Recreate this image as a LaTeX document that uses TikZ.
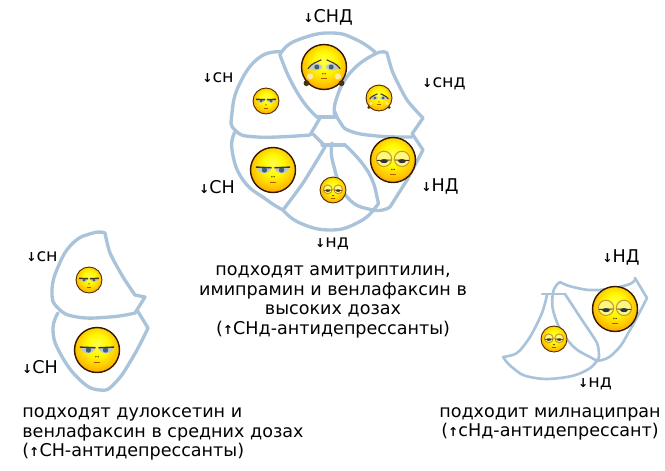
\documentclass[tikz,border=0pt]{standalone}
\usepackage{fontspec}
\setmainfont{DejaVu Sans}
\usetikzlibrary{positioning}

\definecolor{petalblue}{HTML}{A9C3DA}
\definecolor{lidbrown}{HTML}{4A3210}
\definecolor{rimgold}{HTML}{C9992A}
\definecolor{pupilblue}{HTML}{3F5F78}

\newcommand{\dnarrow}{{\fontsize{7}{7}\selectfont\bfseries ↓}}
\newcommand{\uparr}{{\fontsize{7}{7}\selectfont\bfseries ↑}}

\pgfdeclareradialshading{sunface}{\pgfpoint{0bp}{7bp}}{
    color(0bp)=(yellow!70!white);
    color(12bp)=(yellow!95!orange);
    color(23bp)=(yellow!55!orange);
    color(31bp)=(orange!85!yellow);
    color(50bp)=(orange!90!red)
}

\tikzset{
    sadeyes/.pic={
        \begin{scope}[x=1cm,y=1cm]
            \fill[lidbrown] (-.78,-.72) circle (.13) (.78,-.72) circle (.13);
            \fill[white,opacity=.6] (-.62,-.42) circle (.14) (.62,-.42) circle (.14);
            \foreach \s in {-1,1} {
                \fill[pupilblue!35!white,xscale=\s] (.38,.0) ellipse (.3 and .15);
                \fill[pupilblue,xscale=\s] (.32,.0) circle (.11);
                \draw[lidbrown,line width=.6pt,xscale=\s] (.72,-.08) .. controls (.55,.18) and (.3,.22) .. (.12,.32);
                \fill[lidbrown,xscale=\s] (.05,-.3) circle (.035);
            }
            \draw[orange!70!black,line width=.5pt] (-.13,-.52) -- (.13,-.52);
        \end{scope}
    },
    sterneyes/.pic={
        \begin{scope}[x=1cm,y=1cm]
            \foreach \s in {-1,1} {
                \fill[pupilblue!35!white,xscale=\s] (.08,.1) -- (.72,.1) arc (0:-180:.32 and .24) -- cycle;
                \fill[pupilblue,xscale=\s] (.38,.0) circle (.12);
                \draw[lidbrown,line width=.8pt,xscale=\s] (.06,.1) -- (.76,.13);
                \fill[lidbrown,xscale=\s] (.05,-.3) circle (.035);
            }
            \draw[orange!70!black,line width=.5pt] (-.13,-.55) -- (.13,-.55);
        \end{scope}
    },
    sleepyeyes/.pic={
        \begin{scope}[x=1cm,y=1cm]
            \foreach \s in {-1,1} {
                \fill[yellow!50!white,xscale=\s] (.4,.05) circle (.34);
                \draw[rimgold,line width=.6pt,xscale=\s] (.4,.05) circle (.34);
                \fill[pupilblue!60!black,xscale=\s] (.4,-.05) ellipse (.17 and .09);
                \draw[lidbrown,line width=.5pt,xscale=\s] (.08,.0) -- (.72,-.02);
                \fill[lidbrown,xscale=\s] (.05,-.42) circle (.035);
            }
            \draw[orange!70!black,line width=.5pt] (-.12,-.62) -- (.12,-.62);
        \end{scope}
    }
}

\begin{document}
\begin{tikzpicture}[
    x=0.02cm,
    y=-0.02cm,
    font=\fontsize{10}{11.2}\selectfont,
    petal/.style={
        draw=petalblue,
        line width=1.9pt,
        line join=round,
        line cap=round
    },
    thinpetal/.style={
        petal,
        line width=1.5pt
    },
    bigface/.style={
        circle,
        draw=black!80!orange,
        line width=.8pt,
        shading=sunface,
        minimum size=.9cm,
        inner sep=0pt
    },
    smallface/.style={
        circle,
        draw=black!70!orange,
        line width=.5pt,
        shading=sunface,
        minimum size=.52cm,
        inner sep=0pt
    },
    tag/.style={
        inner sep=0pt
    },
    caption/.style={
        align=center,
        inner sep=0pt
    }
]
\path[use as bounding box] (0,0) rectangle (665,470);

% main flower
\draw[petal] plot[smooth,tension=.8] coordinates {(317,117) (300,97) (283,63) (283,50) (303,38) (333,33) (357,40) (375,52)};
\draw[petal] (317,117) -- (335,117);
\draw[petal] plot[smooth,tension=.8] coordinates {(335,117) (336,100) (350,73) (375,54) (387,53)};
\draw[petal] plot[smooth,tension=.4] coordinates {(387,53) (393,73) (407,100) (423,118)};
\draw[petal] plot[smooth,tension=.8] coordinates {(335,112) (340,122) (350,131) (377,136) (412,137)};
\draw[petal] (423,118) -- (412,134);
\draw[petal] plot[smooth,tension=.8] coordinates {(282,52) (260,57) (240,83) (232,113) (235,130) (257,137) (310,135)};
\draw[petal] (310,135) -- (320,118);
\draw[petal] plot[smooth,tension=.8] coordinates {(235,132) (232,150) (243,180) (267,200) (283,210)};
\draw[petal] plot[smooth,tension=.4] coordinates {(283,210) (303,183) (325,147)};
\draw[petal] (313,134) -- (325,146);
\draw[petal] plot[smooth,tension=.8] coordinates {(283,210) (300,223) (330,230) (357,223) (375,208) (377,197) (367,170) (345,145)};
\draw[petal] (345,145) -- (322,145);
\draw[petal] plot[smooth,tension=.8] coordinates {(332,143) (333,163) (347,197) (373,210) (390,207)};
\draw[petal] (390,207) -- (407,180) -- (423,150) -- (413,135);

% left pair
\draw[petal] plot[smooth,tension=.8] coordinates {(105,233) (93,233) (73,243) (58,267) (52,292) (58,308) (77,317) (110,317) (135,313)};
\draw[petal] plot[smooth,tension=.4] coordinates {(105,233) (110,253) (123,277) (135,295)};
\draw[petal] (135,295) -- (145,297) -- (135,313);
\draw[petal] plot[smooth,tension=.8] coordinates {(58,313) (53,330) (60,353) (80,380) (100,390) (115,383) (133,357) (148,328)};
\draw[petal] (148,328) -- (137,310);

% right pair
\draw[thinpetal] plot[smooth,tension=.8] coordinates {(560,282) (553,293) (555,317) (570,343) (590,357) (602,360) (617,350) (630,330) (647,298)};
\draw[thinpetal] (647,298) -- (635,278);
\draw[thinpetal] plot[smooth,tension=.8] coordinates {(635,279) (627,285) (597,290) (573,287) (560,282)};
\draw[thinpetal] (542,294) -- (565,294);
\draw[thinpetal] plot[smooth,tension=.4] coordinates {(565,294) (580,317) (597,343) (599,357)};
\draw[thinpetal] plot[smooth,tension=.8] coordinates {(599,357) (587,370) (560,378) (530,377) (513,368) (503,357)};
\draw[thinpetal] plot[smooth,tension=.5] coordinates {(503,357) (517,353) (530,337) (542,313) (547,295)};

% faces
\node[bigface] (sndface) at (324,67) {};
\node[smallface] (sndlight) at (379,98) {};
\node[smallface] (snlight) at (266,101) {};
\node[bigface] (snface) at (273,170) {};
\node[bigface] (ndface) at (393,160) {};
\node[smallface] (ndlight) at (333,190) {};
\node[smallface] (leftlight) at (89,280) {};
\node[bigface] (leftface) at (97,350) {};
\node[bigface] (rightface) at (615,309) {};
\node[smallface] (rightlight) at (554,339) {};

\pic[scale=.45] at (sndface) {sadeyes};
\pic[scale=.26] at (sndlight) {sadeyes};
\pic[scale=.26] at (snlight) {sterneyes};
\pic[scale=.45] at (snface) {sterneyes};
\pic[scale=.45] at (ndface) {sleepyeyes};
\pic[scale=.26] at (ndlight) {sleepyeyes};
\pic[scale=.26] at (leftlight) {sterneyes};
\pic[scale=.45] at (leftface) {sterneyes};
\pic[scale=.45] at (rightface) {sleepyeyes};
\pic[scale=.26] at (rightlight) {sleepyeyes};

% labels
\node[tag] (sndtop) at (328,17) {\dnarrow СНД};
\node[tag] (sntag) at (218,78) {\dnarrow сн};
\node[tag] (sndtag) at (444,84) {\dnarrow снд};
\node[tag] (sntwo) at (217,187) {\dnarrow СН};
\node[tag] (ndtwo) at (440,186) {\dnarrow НД};
\node[tag] (ndtag) at (332,244) {\dnarrow нд};
\node[tag] (leftsn) at (42,257) {\dnarrow сн};
\node[tag] (leftsntwo) at (40,367) {\dnarrow СН};
\node[tag] (rightnd) at (621,257) {\dnarrow НД};
\node[tag] (rightndtwo) at (595,384) {\dnarrow нд};

\node[caption] (captionmain) at (333,302) {
    подходят амитриптилин,\\
    имипрамин и венлафаксин в\\
    высоких дозах\\
    (\uparr СНд-антидепрессанты)
};
\node[caption,align=left,anchor=west] (captionleft) at (22,434) {
    подходят дулоксетин и\\
    венлафаксин в средних дозах\\
    (\uparr СН-антидепрессанты)
};
\node[caption] (captionright) at (550,424) {
    подходит милнаципран\\
    (\uparr сНд-антидепрессант)
};
\end{tikzpicture}
\end{document}
